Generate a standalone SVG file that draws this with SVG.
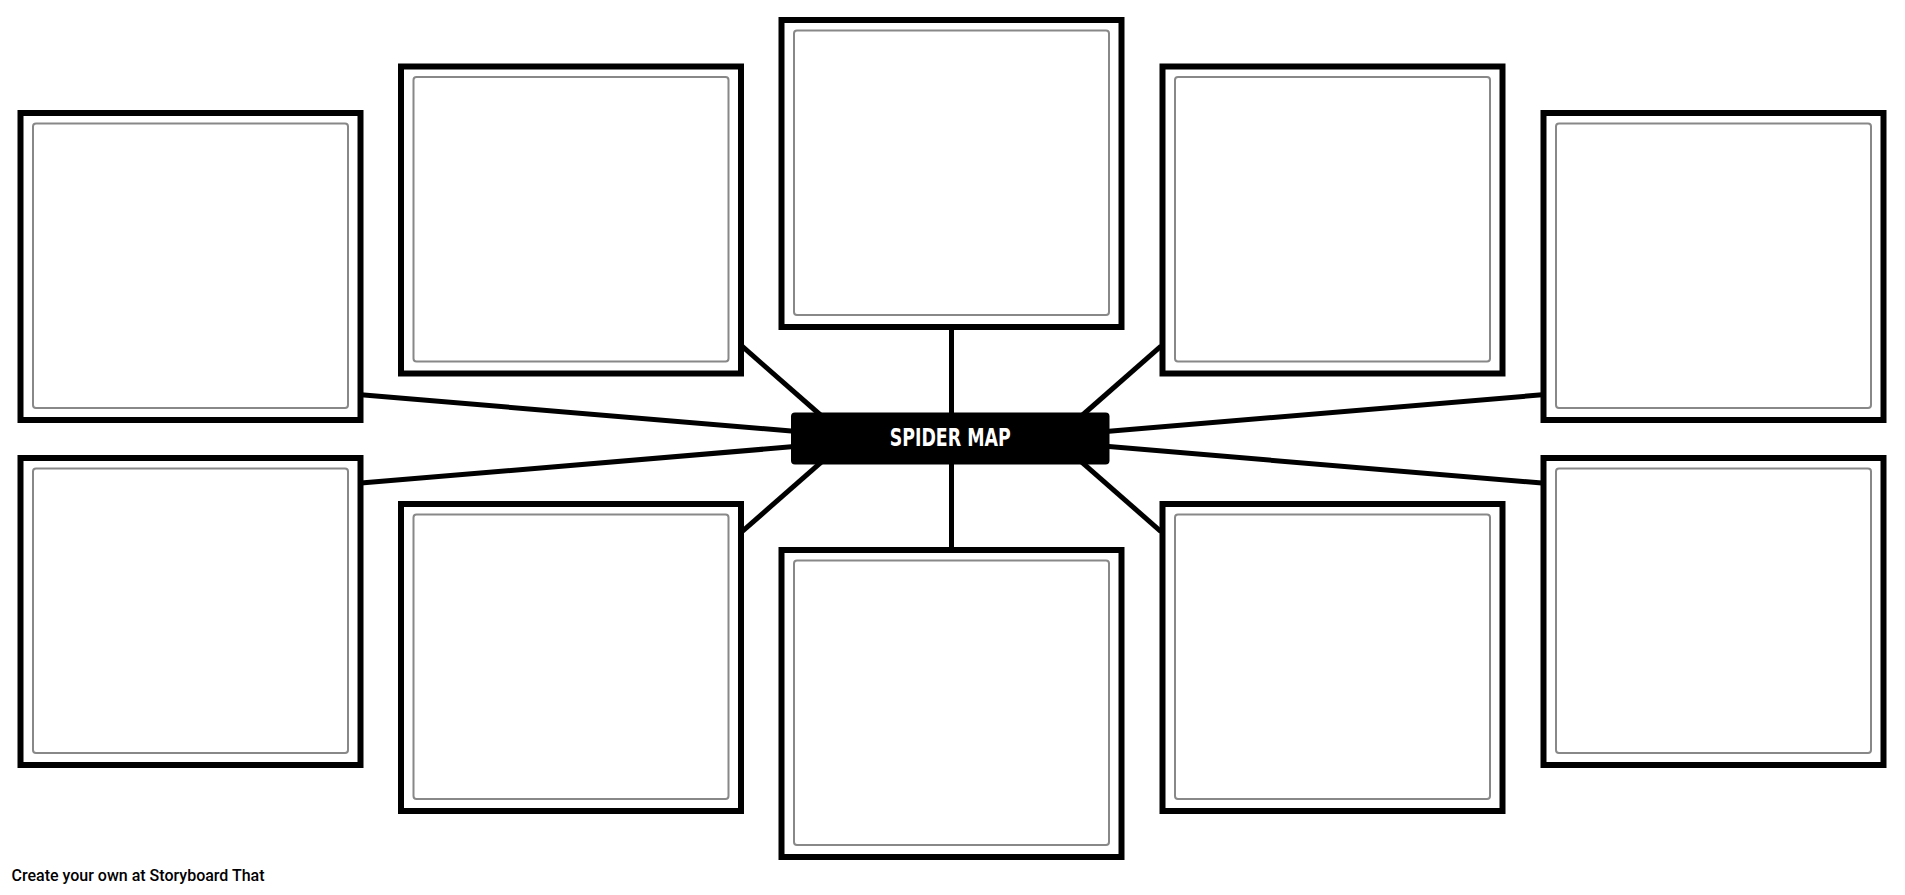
<svg xmlns="http://www.w3.org/2000/svg" width="1905" height="895" viewBox="0 0 1905 895">
  <defs>
    <style>
      .outer { fill: #ffffff; stroke: #000000; stroke-width: 6; }
      .inner { fill: #ffffff; stroke: #888888; stroke-width: 2; }
      .conn { stroke: #000000; stroke-width: 5; fill: none; stroke-linecap: butt; }
      .title { font-family: "Liberation Sans Narrow", "DejaVu Sans Condensed", "Liberation Sans", sans-serif; font-weight: bold; font-size: 24px; fill: #ffffff; }
      .credit { font-family: Roboto, "Liberation Sans", sans-serif; font-weight: 500; font-size: 16px; fill: #000000; }
    </style>
    <g id="frame">
      <rect class="outer" x="3" y="3" width="340" height="307"/>
      <rect class="inner" x="15.5" y="13.5" width="315" height="284.5" rx="3" ry="3"/>
    </g>
  </defs>
  <rect x="0" y="0" width="1905" height="895" fill="#ffffff"/>

  <g id="connectors">
    <line class="conn" x1="951.5" y1="329" x2="951.5" y2="420"/>
    <line class="conn" x1="951.5" y1="456" x2="951.5" y2="548"/>
    <line class="conn" x1="742" y1="346.2" x2="825" y2="419"/>
    <line class="conn" x1="1161" y1="346.2" x2="1078" y2="419"/>
    <line class="conn" x1="742" y1="531.6" x2="825" y2="458.8"/>
    <line class="conn" x1="1161" y1="531.6" x2="1078" y2="458.8"/>
    <line class="conn" x1="361" y1="394.8" x2="800" y2="431.7"/>
    <line class="conn" x1="361" y1="483" x2="800" y2="446.1"/>
    <line class="conn" x1="1542" y1="394.8" x2="1103" y2="431.7"/>
    <line class="conn" x1="1542" y1="483" x2="1103" y2="446.1"/>
  </g>

  <g id="box-top-1" transform="translate(17.5,110)"><use href="#frame"/></g>
  <g id="box-top-2" transform="translate(398,63.5)"><use href="#frame"/></g>
  <g id="box-top-3" transform="translate(778.5,17)"><use href="#frame"/></g>
  <g id="box-top-4" transform="translate(1159.5,63.5)"><use href="#frame"/></g>
  <g id="box-top-5" transform="translate(1540.5,110)"><use href="#frame"/></g>

  <g id="box-bottom-1" transform="translate(17.5,455)"><use href="#frame"/></g>
  <g id="box-bottom-2" transform="translate(398,501)"><use href="#frame"/></g>
  <g id="box-bottom-3" transform="translate(778.5,547)"><use href="#frame"/></g>
  <g id="box-bottom-4" transform="translate(1159.5,501)"><use href="#frame"/></g>
  <g id="box-bottom-5" transform="translate(1540.5,455)"><use href="#frame"/></g>

  <g id="center">
    <rect x="791" y="412.5" width="318.5" height="52" rx="4" ry="4" fill="#000000"/>
    <text class="title" x="950.2" y="445.7" text-anchor="middle" textLength="121" lengthAdjust="spacingAndGlyphs">SPIDER MAP</text>
  </g>

  <text class="credit" x="11.5" y="881">Create your own at Storyboard That</text>
</svg>
